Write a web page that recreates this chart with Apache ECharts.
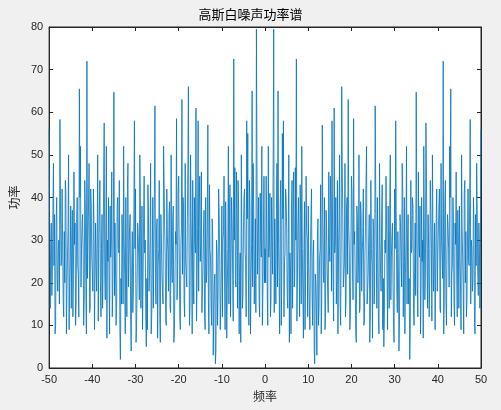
<!DOCTYPE html>
<html><head><meta charset="utf-8">
<script src="https://cdn.jsdelivr.net/npm/echarts@6/dist/echarts.min.js"></script>
<style>html,body{margin:0;background:#f0f0f0}#c{width:501px;height:410px}</style>
</head><body><div id="c"></div>
<script>
// Power spectrum of a real signal is symmetric; values for freq 0..50
// halfPower at 0, 0.25, 0.5 ...; oddPower at 0.125, 0.375, ...
const step = 0.25;
const halfPower = [
28,45,18,52,30,12,40,22,79.5,35,
15,48,65,20,38,10,55,58,25,42,
33,14,50,27,8,44,36,19,47,72.5,
22,40,12,35,52,18,28,9,45,30,
38,15,26,42,10,30,1,20,3,35,
14,28,8,57,22,40,12,33,18,46,
25,38,58,20,61,30,15,44,26,50,
10,66,35,22,48,16,40,63,28,12,
45,24,58.5,32,8,38,20,50,14,36,
27,42,11,33,52,18,30,6,44,24,
35,15,61.5,28,40,12,48,22,36,9,
5,30,45,20,38,14,50,26,34,10,
42,58,18,32,4,36,25,48,12,40,
22,52,30,15,2,44,28,38,10,34,
64.7,20,46,26,8,40,30,52,16,57.5,
24,36,12,44,28,50,18,34,9,42,
26,38,14,48,30,72,20,44,10,36,
28,52,65.5,22,40,15,34,46,12,30,
38,20,50,26,8,44,32,16,42,24,
58.3,30,18,40,10,36,48,22,34,14,
56];
const oddPower = [
20,33,10,26,41,16,30,48,13,24,
37,19,29,8,44,22,35,12,27,40,
17,31,6,23,38,14,46,21,30,11,
34,25,43,15,28,7,39,20,32,12,
24,9,36,18,27,4,22,14,31,10,
26,43,16,34,20,9,37,24,13,29,
45,18,33,11,27,40,21,8,35,15,
30,47,19,25,12,38,22,33,9,27,
41,16,29,20,6,35,24,13,39,18,
31,10,26,44,15,22,36,12,28,7,
33,19,41,14,25,8,30,18,43,21,
12,27,35,9,24,40,16,31,20,6,
28,37,13,23,11,33,19,42,25,8,
30,15,36,21,9,27,40,14,23,17,
34,12,29,38,19,25,7,33,22,45,
14,28,20,37,11,31,24,9,35,18,
26,42,13,30,21,8,38,16,27,33,
19,40,12,24,35,10,29,22,37,14,
26,9,33,18,41,20,12,30,25,39,
15,28,21,34,8,24,37,17,29,31];
const xTicks = [-50,-40,-30,-20,-10,0,10,20,30,40,50];
const yTicks = [0,10,20,30,40,50,60,70,80];

const right = [];
for (let i = 0; i < halfPower.length; i++) {
  right.push([i*step, halfPower[i]]);
  if (i < oddPower.length) right.push([i*step + step/2, oddPower[i]]);
}
const data = [];
for (let k = right.length - 1; k >= 1; k--) data.push([-right[k][0], right[k][1]]);
for (const p of right) data.push(p);

const txt = {color:'#262626', fontFamily:'Liberation Sans, Arial', fontSize:11};
const ax = {onZero:false, lineStyle:{color:'#262626',width:1}};
const tick = {inside:true,length:4,lineStyle:{color:'#262626'}};
const chart = echarts.init(document.getElementById('c'));
chart.setOption({
  backgroundColor:'#f0f0f0',
  animation:false,
  title:{text:'高斯白噪声功率谱', left:'center', top:3,
    textStyle:{fontFamily:'Noto Sans CJK SC', fontSize:13, fontWeight:'normal', color:'#000'}},
  grid:{left:46,right:20,top:27,bottom:42,show:true,backgroundColor:'#fff',borderColor:'#262626',borderWidth:1},
  xAxis:[{type:'value',min:xTicks[0],max:xTicks[xTicks.length-1],interval:10,axisLine:ax,
    axisTick:tick,axisLabel:Object.assign({margin:6},txt),
    splitLine:{show:false},name:'频率',nameLocation:'middle',nameGap:22,
    nameTextStyle:{fontFamily:'Noto Sans CJK SC',fontSize:12,color:'#262626'}},
    {type:'value',position:'top',min:-50,max:50,interval:10,axisLine:ax,
    axisTick:tick,axisLabel:{show:false},splitLine:{show:false}}],
  yAxis:[{type:'value',min:yTicks[0],max:yTicks[yTicks.length-1],interval:10,axisLine:ax,
    axisTick:tick,axisLabel:Object.assign({margin:6},txt),
    splitLine:{show:false},name:'功率',nameLocation:'middle',nameGap:25,
    nameTextStyle:{fontFamily:'Noto Sans CJK SC',fontSize:12,color:'#262626'}},
    {type:'value',position:'right',min:0,max:80,interval:10,axisLine:ax,
    axisTick:tick,axisLabel:{show:false},splitLine:{show:false}}],
  series:[{type:'line',data:data,showSymbol:false,symbol:'none',
    lineStyle:{color:'#0072BD',width:0.8}}]
});
</script></body></html>
